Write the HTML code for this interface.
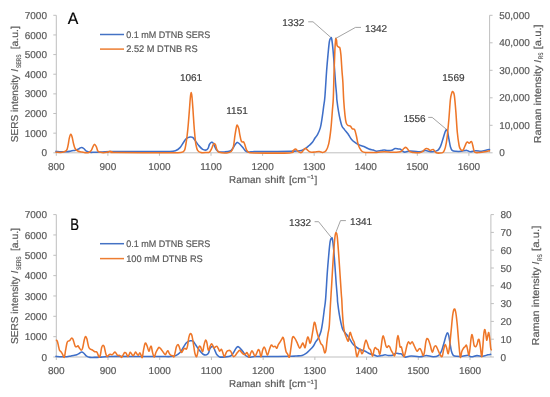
<!DOCTYPE html>
<html><head><meta charset="utf-8"><style>
html,body{margin:0;padding:0;background:#fff;width:550px;height:397px;overflow:hidden;position:relative}
</style></head><body>
<svg width="550" height="397" viewBox="0 0 550 397" style="position:absolute;left:0;top:0;text-rendering:geometricPrecision"><style>text{stroke-width:0.2px;stroke-linejoin:round}</style><rect width="550" height="397" fill="#fff"/><g font-family='"Liberation Sans", sans-serif' font-size="10" fill="#595959" stroke="#595959"><line x1="56.3" y1="15.3" x2="56.3" y2="152.8" stroke="#BFBFBF" stroke-width="1"/><line x1="489.6" y1="15.3" x2="489.6" y2="152.8" stroke="#BFBFBF" stroke-width="1"/><line x1="56.3" y1="152.8" x2="489.6" y2="152.8" stroke="#BFBFBF" stroke-width="1"/><line x1="53.3" y1="152.80" x2="56.3" y2="152.80" stroke="#BFBFBF" stroke-width="1"/><text x="47.0" y="156.40" text-anchor="end">0</text><line x1="53.3" y1="133.16" x2="56.3" y2="133.16" stroke="#BFBFBF" stroke-width="1"/><text x="47.0" y="136.76" text-anchor="end">1000</text><line x1="53.3" y1="113.51" x2="56.3" y2="113.51" stroke="#BFBFBF" stroke-width="1"/><text x="47.0" y="117.11" text-anchor="end">2000</text><line x1="53.3" y1="93.87" x2="56.3" y2="93.87" stroke="#BFBFBF" stroke-width="1"/><text x="47.0" y="97.47" text-anchor="end">3000</text><line x1="53.3" y1="74.23" x2="56.3" y2="74.23" stroke="#BFBFBF" stroke-width="1"/><text x="47.0" y="77.83" text-anchor="end">4000</text><line x1="53.3" y1="54.59" x2="56.3" y2="54.59" stroke="#BFBFBF" stroke-width="1"/><text x="47.0" y="58.19" text-anchor="end">5000</text><line x1="53.3" y1="34.94" x2="56.3" y2="34.94" stroke="#BFBFBF" stroke-width="1"/><text x="47.0" y="38.54" text-anchor="end">6000</text><line x1="53.3" y1="15.30" x2="56.3" y2="15.30" stroke="#BFBFBF" stroke-width="1"/><text x="47.0" y="18.90" text-anchor="end">7000</text><line x1="489.6" y1="152.80" x2="492.6" y2="152.80" stroke="#BFBFBF" stroke-width="1"/><text x="499.20" y="156.40">0</text><line x1="489.6" y1="125.30" x2="492.6" y2="125.30" stroke="#BFBFBF" stroke-width="1"/><text x="499.20" y="128.90">10,000</text><line x1="489.6" y1="97.80" x2="492.6" y2="97.80" stroke="#BFBFBF" stroke-width="1"/><text x="499.20" y="101.40">20,000</text><line x1="489.6" y1="70.30" x2="492.6" y2="70.30" stroke="#BFBFBF" stroke-width="1"/><text x="499.20" y="73.90">30,000</text><line x1="489.6" y1="42.80" x2="492.6" y2="42.80" stroke="#BFBFBF" stroke-width="1"/><text x="499.20" y="46.40">40,000</text><line x1="489.6" y1="15.30" x2="492.6" y2="15.30" stroke="#BFBFBF" stroke-width="1"/><text x="499.20" y="18.90">50,000</text><line x1="56.30" y1="152.8" x2="56.30" y2="155.8" stroke="#BFBFBF" stroke-width="1"/><text x="56.30" y="170.30" text-anchor="middle">800</text><line x1="107.88" y1="152.8" x2="107.88" y2="155.8" stroke="#BFBFBF" stroke-width="1"/><text x="107.88" y="170.30" text-anchor="middle">900</text><line x1="159.45" y1="152.8" x2="159.45" y2="155.8" stroke="#BFBFBF" stroke-width="1"/><text x="159.45" y="170.30" text-anchor="middle">1000</text><line x1="211.02" y1="152.8" x2="211.02" y2="155.8" stroke="#BFBFBF" stroke-width="1"/><text x="211.02" y="170.30" text-anchor="middle">1100</text><line x1="262.60" y1="152.8" x2="262.60" y2="155.8" stroke="#BFBFBF" stroke-width="1"/><text x="262.60" y="170.30" text-anchor="middle">1200</text><line x1="314.17" y1="152.8" x2="314.17" y2="155.8" stroke="#BFBFBF" stroke-width="1"/><text x="314.17" y="170.30" text-anchor="middle">1300</text><line x1="365.75" y1="152.8" x2="365.75" y2="155.8" stroke="#BFBFBF" stroke-width="1"/><text x="365.75" y="170.30" text-anchor="middle">1400</text><line x1="417.32" y1="152.8" x2="417.32" y2="155.8" stroke="#BFBFBF" stroke-width="1"/><text x="417.32" y="170.30" text-anchor="middle">1500</text><line x1="468.90" y1="152.8" x2="468.90" y2="155.8" stroke="#BFBFBF" stroke-width="1"/><text x="468.90" y="170.30" text-anchor="middle">1600</text></g><g font-family='"Liberation Sans", sans-serif' font-size="10" fill="#595959" stroke="#595959"><line x1="56.3" y1="214.6" x2="56.3" y2="357.0" stroke="#BFBFBF" stroke-width="1"/><line x1="490.9" y1="214.6" x2="490.9" y2="357.0" stroke="#BFBFBF" stroke-width="1"/><line x1="56.3" y1="357.0" x2="490.9" y2="357.0" stroke="#BFBFBF" stroke-width="1"/><line x1="53.3" y1="357.00" x2="56.3" y2="357.00" stroke="#BFBFBF" stroke-width="1"/><text x="47.0" y="360.60" text-anchor="end">0</text><line x1="53.3" y1="336.66" x2="56.3" y2="336.66" stroke="#BFBFBF" stroke-width="1"/><text x="47.0" y="340.26" text-anchor="end">1000</text><line x1="53.3" y1="316.31" x2="56.3" y2="316.31" stroke="#BFBFBF" stroke-width="1"/><text x="47.0" y="319.91" text-anchor="end">2000</text><line x1="53.3" y1="295.97" x2="56.3" y2="295.97" stroke="#BFBFBF" stroke-width="1"/><text x="47.0" y="299.57" text-anchor="end">3000</text><line x1="53.3" y1="275.63" x2="56.3" y2="275.63" stroke="#BFBFBF" stroke-width="1"/><text x="47.0" y="279.23" text-anchor="end">4000</text><line x1="53.3" y1="255.29" x2="56.3" y2="255.29" stroke="#BFBFBF" stroke-width="1"/><text x="47.0" y="258.89" text-anchor="end">5000</text><line x1="53.3" y1="234.94" x2="56.3" y2="234.94" stroke="#BFBFBF" stroke-width="1"/><text x="47.0" y="238.54" text-anchor="end">6000</text><line x1="53.3" y1="214.60" x2="56.3" y2="214.60" stroke="#BFBFBF" stroke-width="1"/><text x="47.0" y="218.20" text-anchor="end">7000</text><line x1="490.9" y1="357.00" x2="493.9" y2="357.00" stroke="#BFBFBF" stroke-width="1"/><text x="500.50" y="360.60">0</text><line x1="490.9" y1="339.20" x2="493.9" y2="339.20" stroke="#BFBFBF" stroke-width="1"/><text x="500.50" y="342.80">10</text><line x1="490.9" y1="321.40" x2="493.9" y2="321.40" stroke="#BFBFBF" stroke-width="1"/><text x="500.50" y="325.00">20</text><line x1="490.9" y1="303.60" x2="493.9" y2="303.60" stroke="#BFBFBF" stroke-width="1"/><text x="500.50" y="307.20">30</text><line x1="490.9" y1="285.80" x2="493.9" y2="285.80" stroke="#BFBFBF" stroke-width="1"/><text x="500.50" y="289.40">40</text><line x1="490.9" y1="268.00" x2="493.9" y2="268.00" stroke="#BFBFBF" stroke-width="1"/><text x="500.50" y="271.60">50</text><line x1="490.9" y1="250.20" x2="493.9" y2="250.20" stroke="#BFBFBF" stroke-width="1"/><text x="500.50" y="253.80">60</text><line x1="490.9" y1="232.40" x2="493.9" y2="232.40" stroke="#BFBFBF" stroke-width="1"/><text x="500.50" y="236.00">70</text><line x1="490.9" y1="214.60" x2="493.9" y2="214.60" stroke="#BFBFBF" stroke-width="1"/><text x="500.50" y="218.20">80</text><line x1="56.30" y1="357.0" x2="56.30" y2="360.0" stroke="#BFBFBF" stroke-width="1"/><text x="56.30" y="374.40" text-anchor="middle">800</text><line x1="108.01" y1="357.0" x2="108.01" y2="360.0" stroke="#BFBFBF" stroke-width="1"/><text x="108.01" y="374.40" text-anchor="middle">900</text><line x1="159.72" y1="357.0" x2="159.72" y2="360.0" stroke="#BFBFBF" stroke-width="1"/><text x="159.72" y="374.40" text-anchor="middle">1000</text><line x1="211.44" y1="357.0" x2="211.44" y2="360.0" stroke="#BFBFBF" stroke-width="1"/><text x="211.44" y="374.40" text-anchor="middle">1100</text><line x1="263.15" y1="357.0" x2="263.15" y2="360.0" stroke="#BFBFBF" stroke-width="1"/><text x="263.15" y="374.40" text-anchor="middle">1200</text><line x1="314.86" y1="357.0" x2="314.86" y2="360.0" stroke="#BFBFBF" stroke-width="1"/><text x="314.86" y="374.40" text-anchor="middle">1300</text><line x1="366.57" y1="357.0" x2="366.57" y2="360.0" stroke="#BFBFBF" stroke-width="1"/><text x="366.57" y="374.40" text-anchor="middle">1400</text><line x1="418.29" y1="357.0" x2="418.29" y2="360.0" stroke="#BFBFBF" stroke-width="1"/><text x="418.29" y="374.40" text-anchor="middle">1500</text><line x1="470.00" y1="357.0" x2="470.00" y2="360.0" stroke="#BFBFBF" stroke-width="1"/><text x="470.00" y="374.40" text-anchor="middle">1600</text></g><g fill="none" stroke-width="1.55" stroke-linejoin="round" stroke-linecap="round"><path d="M56.00,151.40 C56.92,151.45 59.68,151.65 61.50,151.70 C63.32,151.75 65.45,151.78 66.90,151.70 C68.35,151.62 69.10,151.38 70.20,151.20 C71.30,151.02 72.42,150.82 73.50,150.60 C74.58,150.38 75.70,150.25 76.70,149.90 C77.70,149.55 78.68,148.92 79.50,148.50 C80.32,148.08 80.88,147.40 81.60,147.40 C82.32,147.40 82.98,147.87 83.80,148.50 C84.62,149.13 85.50,150.57 86.50,151.20 C87.50,151.83 88.52,152.12 89.80,152.30 C91.08,152.48 92.57,152.33 94.20,152.30 C95.83,152.27 97.78,152.20 99.60,152.10 C101.42,152.00 103.28,151.80 105.10,151.70 C106.92,151.60 108.68,151.55 110.50,151.50 C112.32,151.45 111.08,151.40 116.00,151.40 C120.92,151.40 132.67,151.48 140.00,151.50 C147.33,151.52 155.00,151.48 160.00,151.50 C165.00,151.52 167.43,151.73 170.00,151.60 C172.57,151.47 173.73,151.37 175.40,150.70 C177.07,150.03 178.63,149.02 180.00,147.60 C181.37,146.18 182.55,143.70 183.60,142.20 C184.65,140.70 185.23,139.47 186.30,138.60 C187.37,137.73 188.93,137.20 190.00,137.00 C191.07,136.80 191.80,136.75 192.70,137.40 C193.60,138.05 194.35,139.50 195.40,140.90 C196.45,142.30 197.78,144.38 199.00,145.80 C200.22,147.22 201.48,148.70 202.70,149.40 C203.92,150.10 205.38,150.20 206.30,150.00 C207.22,149.80 207.68,149.12 208.20,148.20 C208.72,147.28 208.85,145.48 209.40,144.50 C209.95,143.52 210.87,142.53 211.50,142.30 C212.13,142.07 212.65,142.38 213.20,143.10 C213.75,143.82 214.25,145.47 214.80,146.60 C215.35,147.73 215.77,149.02 216.50,149.90 C217.23,150.78 217.85,151.57 219.20,151.90 C220.55,152.23 222.78,152.05 224.60,151.90 C226.42,151.75 228.73,151.60 230.10,151.00 C231.47,150.40 231.90,149.47 232.80,148.30 C233.70,147.13 234.72,144.98 235.50,144.00 C236.28,143.02 236.77,142.37 237.50,142.40 C238.23,142.43 239.05,143.40 239.90,144.20 C240.75,145.00 241.68,146.10 242.60,147.20 C243.52,148.30 244.40,149.98 245.40,150.80 C246.40,151.62 247.15,151.98 248.60,152.10 C250.05,152.22 251.37,151.60 254.10,151.50 C256.83,151.40 258.93,151.53 265.00,151.50 C271.07,151.47 285.33,151.38 290.50,151.30 C295.67,151.22 294.17,151.13 296.00,151.00 C297.83,150.87 299.87,150.95 301.50,150.50 C303.13,150.05 304.53,149.13 305.80,148.30 C307.07,147.47 308.00,146.50 309.10,145.50 C310.20,144.50 311.42,143.55 312.40,142.30 C313.38,141.05 314.15,139.27 315.00,138.00 C315.85,136.73 316.62,136.38 317.50,134.70 C318.38,133.02 319.55,130.57 320.30,127.90 C321.05,125.23 321.45,122.20 322.00,118.70 C322.55,115.20 323.12,110.57 323.60,106.90 C324.08,103.23 324.40,102.68 324.90,96.70 C325.40,90.72 326.08,78.02 326.60,71.00 C327.12,63.98 327.53,59.52 328.00,54.60 C328.47,49.68 328.93,44.28 329.40,41.50 C329.87,38.72 330.42,38.32 330.80,37.90 C331.18,37.48 331.33,37.03 331.70,39.00 C332.07,40.97 332.57,45.18 333.00,49.70 C333.43,54.22 333.88,60.63 334.30,66.10 C334.72,71.57 335.12,77.67 335.50,82.50 C335.88,87.33 336.37,92.17 336.60,95.10 C336.83,98.03 336.57,97.30 336.90,100.10 C337.23,102.90 338.03,108.53 338.60,111.90 C339.17,115.27 339.73,117.92 340.30,120.30 C340.87,122.68 341.30,124.65 342.00,126.20 C342.70,127.75 343.52,128.33 344.50,129.60 C345.48,130.87 346.78,132.25 347.90,133.80 C349.02,135.35 350.08,137.50 351.20,138.90 C352.32,140.30 353.33,141.22 354.60,142.20 C355.87,143.18 357.25,144.08 358.80,144.80 C360.35,145.52 362.22,145.80 363.90,146.50 C365.58,147.20 367.33,148.40 368.90,149.00 C370.47,149.60 372.03,149.73 373.30,150.10 C374.57,150.47 375.23,151.12 376.50,151.20 C377.77,151.28 379.62,150.82 380.90,150.60 C382.18,150.38 383.10,149.90 384.20,149.90 C385.30,149.90 386.23,150.53 387.50,150.60 C388.77,150.67 390.53,150.65 391.80,150.30 C393.07,149.95 394.00,148.72 395.10,148.50 C396.20,148.28 397.50,148.88 398.40,149.00 C399.30,149.12 399.78,148.83 400.50,149.20 C401.22,149.57 401.97,150.72 402.70,151.20 C403.43,151.68 403.98,152.10 404.90,152.10 C405.82,152.10 406.75,151.35 408.20,151.20 C409.65,151.05 411.78,151.12 413.60,151.20 C415.42,151.28 417.63,151.70 419.10,151.70 C420.57,151.70 421.32,151.38 422.40,151.20 C423.48,151.02 423.95,150.50 425.60,150.60 C427.25,150.70 430.28,151.83 432.30,151.80 C434.32,151.77 436.35,151.25 437.70,150.40 C439.05,149.55 439.55,148.52 440.40,146.70 C441.25,144.88 442.03,141.92 442.80,139.50 C443.57,137.08 444.40,133.87 445.00,132.20 C445.60,130.53 445.95,129.50 446.40,129.50 C446.85,129.50 447.27,130.53 447.70,132.20 C448.13,133.87 448.55,137.08 449.00,139.50 C449.45,141.92 449.87,144.88 450.40,146.70 C450.93,148.52 451.28,149.63 452.20,150.40 C453.12,151.17 454.38,151.15 455.90,151.30 C457.42,151.45 459.48,151.45 461.30,151.30 C463.12,151.15 465.28,150.32 466.80,150.40 C468.32,150.48 468.90,151.75 470.40,151.80 C471.90,151.85 473.98,150.78 475.80,150.70 C477.62,150.62 479.48,151.42 481.30,151.30 C483.12,151.18 485.33,150.30 486.70,150.00 C488.07,149.70 489.03,149.58 489.50,149.50" stroke="#3F6FC8"/><path d="M56.00,152.30 C57.08,152.30 60.77,152.58 62.50,152.30 C64.23,152.02 65.48,151.70 66.40,150.60 C67.32,149.50 67.52,147.78 68.00,145.70 C68.48,143.62 68.85,140.00 69.30,138.10 C69.75,136.20 70.23,134.48 70.70,134.30 C71.17,134.12 71.63,135.47 72.10,137.00 C72.57,138.53 73.00,141.58 73.50,143.50 C74.00,145.42 74.38,147.25 75.10,148.50 C75.82,149.75 76.80,150.43 77.80,151.00 C78.80,151.57 80.00,151.63 81.10,151.90 C82.20,152.17 83.13,152.50 84.40,152.60 C85.67,152.70 87.52,152.92 88.70,152.50 C89.88,152.08 90.77,151.13 91.50,150.10 C92.23,149.07 92.57,147.25 93.10,146.30 C93.63,145.35 94.15,144.32 94.70,144.40 C95.25,144.48 95.85,145.67 96.40,146.80 C96.95,147.93 97.10,150.23 98.00,151.20 C98.90,152.17 100.25,152.42 101.80,152.60 C103.35,152.78 105.93,152.52 107.30,152.30 C108.67,152.08 109.10,151.30 110.00,151.30 C110.90,151.30 111.70,152.08 112.70,152.30 C113.70,152.52 106.45,152.53 116.00,152.60 C125.55,152.67 159.18,152.72 170.00,152.70 C180.82,152.68 178.48,152.90 180.90,152.50 C183.32,152.10 183.65,151.80 184.50,150.30 C185.35,148.80 185.55,146.05 186.00,143.50 C186.45,140.95 186.82,138.25 187.20,135.00 C187.58,131.75 187.93,128.17 188.30,124.00 C188.67,119.83 189.05,114.50 189.40,110.00 C189.75,105.50 190.10,99.90 190.40,97.00 C190.70,94.10 190.93,92.60 191.20,92.60 C191.47,92.60 191.70,94.10 192.00,97.00 C192.30,99.90 192.68,105.50 193.00,110.00 C193.32,114.50 193.58,119.67 193.90,124.00 C194.22,128.33 194.57,132.58 194.90,136.00 C195.23,139.42 195.45,142.12 195.90,144.50 C196.35,146.88 196.77,148.97 197.60,150.30 C198.43,151.63 199.45,152.13 200.90,152.50 C202.35,152.87 204.88,152.57 206.30,152.50 C207.72,152.43 208.53,152.72 209.40,152.10 C210.27,151.48 210.87,150.07 211.50,148.80 C212.13,147.53 212.73,145.40 213.20,144.50 C213.67,143.60 213.93,143.40 214.30,143.40 C214.67,143.40 214.95,143.42 215.40,144.50 C215.85,145.58 216.37,148.60 217.00,149.90 C217.63,151.20 217.57,151.80 219.20,152.30 C220.83,152.80 224.80,153.03 226.80,152.90 C228.80,152.77 230.10,152.55 231.20,151.50 C232.30,150.45 232.77,149.32 233.40,146.60 C234.03,143.88 234.47,138.60 235.00,135.20 C235.53,131.80 236.18,127.83 236.60,126.20 C237.02,124.57 237.13,124.97 237.50,125.40 C237.87,125.83 238.40,127.17 238.80,128.80 C239.20,130.43 239.50,133.18 239.90,135.20 C240.30,137.22 240.75,139.77 241.20,140.90 C241.65,142.03 242.18,141.82 242.60,142.00 C243.02,142.18 243.33,141.58 243.70,142.00 C244.07,142.42 244.33,143.18 244.80,144.50 C245.27,145.82 245.87,148.60 246.50,149.90 C247.13,151.20 247.33,151.80 248.60,152.30 C249.87,152.80 247.28,152.80 254.10,152.90 C260.92,153.00 283.07,153.22 289.50,152.90 C295.93,152.58 291.70,151.65 292.70,151.00 C293.70,150.35 294.68,149.03 295.50,149.00 C296.32,148.97 296.78,150.20 297.60,150.80 C298.42,151.40 299.58,152.48 300.40,152.60 C301.22,152.72 301.78,152.17 302.50,151.50 C303.22,150.83 304.15,149.13 304.70,148.60 C305.25,148.07 305.25,147.98 305.80,148.30 C306.35,148.62 307.27,149.87 308.00,150.50 C308.73,151.13 309.12,151.83 310.20,152.10 C311.28,152.37 313.00,152.20 314.50,152.10 C316.00,152.00 317.85,151.45 319.20,151.50 C320.55,151.55 321.47,152.53 322.60,152.40 C323.73,152.27 324.98,152.12 326.00,150.70 C327.02,149.28 327.88,147.55 328.70,143.90 C329.52,140.25 330.28,134.42 330.90,128.80 C331.52,123.18 332.00,115.27 332.40,110.20 C332.80,105.13 333.02,104.93 333.30,98.40 C333.58,91.87 333.83,79.12 334.10,71.00 C334.37,62.88 334.65,54.90 334.90,49.70 C335.15,44.50 335.42,41.67 335.60,39.80 C335.78,37.93 335.83,38.35 336.00,38.50 C336.17,38.65 336.42,39.52 336.60,40.70 C336.78,41.88 336.73,44.52 337.10,45.60 C337.47,46.68 338.33,46.80 338.80,47.20 C339.27,47.60 339.55,46.77 339.90,48.00 C340.25,49.23 340.55,50.77 340.90,54.60 C341.25,58.43 341.67,66.35 342.00,71.00 C342.33,75.65 342.62,77.67 342.90,82.50 C343.18,87.33 343.35,94.53 343.70,100.00 C344.05,105.47 344.58,111.48 345.00,115.30 C345.42,119.12 345.72,121.22 346.20,122.90 C346.68,124.58 347.20,124.85 347.90,125.40 C348.60,125.95 349.65,125.63 350.40,126.20 C351.15,126.77 351.70,128.23 352.40,128.80 C353.10,129.37 353.95,128.48 354.60,129.60 C355.25,130.72 355.73,133.12 356.30,135.50 C356.87,137.88 357.43,141.80 358.00,143.90 C358.57,146.00 359.00,146.83 359.70,148.10 C360.40,149.37 361.22,150.78 362.20,151.50 C363.18,152.22 363.22,152.23 365.60,152.40 C367.98,152.57 373.40,152.62 376.50,152.50 C379.60,152.38 381.65,151.73 384.20,151.70 C386.75,151.67 389.43,152.23 391.80,152.30 C394.17,152.37 396.77,152.28 398.40,152.10 C400.03,151.92 400.70,151.80 401.60,151.20 C402.50,150.60 403.07,149.13 403.80,148.50 C404.53,147.87 405.37,147.32 406.00,147.40 C406.63,147.48 406.97,148.28 407.60,149.00 C408.23,149.72 408.80,151.12 409.80,151.70 C410.80,152.28 412.05,152.32 413.60,152.50 C415.15,152.68 417.63,152.93 419.10,152.80 C420.57,152.67 421.50,152.25 422.40,151.70 C423.30,151.15 423.78,150.03 424.50,149.50 C425.22,148.97 426.08,148.58 426.70,148.50 C427.32,148.42 427.58,148.68 428.20,149.00 C428.82,149.32 429.57,150.32 430.40,150.40 C431.23,150.48 432.28,149.15 433.20,149.50 C434.12,149.85 434.85,151.90 435.90,152.50 C436.95,153.10 438.28,153.15 439.50,153.10 C440.72,153.05 442.23,153.12 443.20,152.20 C444.17,151.28 444.65,150.03 445.30,147.60 C445.95,145.17 446.48,142.58 447.10,137.60 C447.72,132.62 448.45,124.05 449.00,117.70 C449.55,111.35 449.92,103.68 450.40,99.50 C450.88,95.32 451.45,93.87 451.90,92.60 C452.35,91.33 452.68,91.35 453.10,91.90 C453.52,92.45 453.93,92.52 454.40,95.90 C454.87,99.28 455.42,106.15 455.90,112.20 C456.38,118.25 456.77,126.65 457.30,132.20 C457.83,137.75 458.57,142.67 459.10,145.50 C459.63,148.33 460.02,148.35 460.50,149.20 C460.98,150.05 461.50,150.55 462.00,150.60 C462.50,150.65 463.00,150.27 463.50,149.50 C464.00,148.73 464.50,147.15 465.00,146.00 C465.50,144.85 466.08,143.27 466.50,142.60 C466.92,141.93 467.05,141.88 467.50,142.00 C467.95,142.12 468.65,143.33 469.20,143.30 C469.75,143.27 470.37,142.02 470.80,141.80 C471.23,141.58 471.47,141.38 471.80,142.00 C472.13,142.62 472.47,144.17 472.80,145.50 C473.13,146.83 473.43,148.85 473.80,150.00 C474.17,151.15 474.05,151.98 475.00,152.40 C475.95,152.82 477.85,152.60 479.50,152.50 C481.15,152.40 483.23,152.10 484.90,151.80 C486.57,151.50 488.73,150.88 489.50,150.70" stroke="#EE7628"/><path d="M56.00,356.38 C56.92,356.44 59.69,356.66 61.51,356.71 C63.34,356.76 65.47,356.80 66.93,356.71 C68.38,356.62 69.13,356.37 70.24,356.17 C71.34,355.97 72.46,355.75 73.55,355.52 C74.63,355.28 75.75,355.14 76.75,354.76 C77.76,354.38 78.74,353.70 79.56,353.25 C80.38,352.80 80.95,352.06 81.67,352.06 C82.39,352.06 83.05,352.56 83.87,353.25 C84.69,353.93 85.58,355.48 86.58,356.17 C87.58,356.85 88.60,357.16 89.89,357.36 C91.18,357.56 92.66,357.39 94.30,357.36 C95.94,357.32 97.89,357.25 99.72,357.14 C101.54,357.03 103.41,356.82 105.23,356.71 C107.05,356.60 108.82,356.55 110.64,356.49 C112.47,356.44 111.23,356.38 116.16,356.38 C121.09,356.38 132.87,356.48 140.22,356.49 C147.58,356.51 155.26,356.48 160.28,356.49 C165.29,356.51 167.73,356.75 170.30,356.60 C172.88,356.46 174.05,356.35 175.72,355.63 C177.39,354.91 178.96,353.81 180.33,352.27 C181.70,350.74 182.89,348.05 183.94,346.43 C184.99,344.80 185.58,343.47 186.65,342.53 C187.72,341.59 189.29,341.02 190.36,340.80 C191.43,340.58 192.16,340.53 193.06,341.23 C193.97,341.94 194.72,343.51 195.77,345.02 C196.82,346.54 198.16,348.79 199.38,350.32 C200.60,351.86 201.87,353.46 203.09,354.22 C204.31,354.98 205.78,355.09 206.70,354.87 C207.62,354.65 208.09,353.91 208.60,352.92 C209.12,351.93 209.26,349.98 209.81,348.92 C210.36,347.85 211.28,346.79 211.91,346.54 C212.55,346.28 213.07,346.63 213.62,347.40 C214.17,348.18 214.67,349.96 215.22,351.19 C215.77,352.42 216.19,353.81 216.93,354.76 C217.66,355.72 218.28,356.57 219.63,356.93 C220.99,357.29 223.23,357.09 225.05,356.93 C226.87,356.76 229.19,356.60 230.56,355.95 C231.93,355.30 232.37,354.29 233.27,353.03 C234.17,351.77 235.19,349.44 235.98,348.38 C236.76,347.31 237.25,346.61 237.98,346.64 C238.72,346.68 239.54,347.73 240.39,348.59 C241.24,349.46 242.18,350.65 243.10,351.84 C244.02,353.03 244.90,354.85 245.90,355.74 C246.91,356.62 247.66,357.02 249.11,357.14 C250.57,357.27 251.89,356.60 254.63,356.49 C257.37,356.38 259.47,356.53 265.56,356.49 C271.64,356.46 285.94,356.37 291.12,356.28 C296.30,356.19 294.80,356.10 296.64,355.95 C298.48,355.81 300.52,355.90 302.15,355.41 C303.79,354.92 305.20,353.93 306.47,353.03 C307.74,352.13 308.67,351.08 309.77,350.00 C310.88,348.92 312.10,347.89 313.08,346.54 C314.07,345.18 314.84,343.25 315.69,341.88 C316.54,340.51 317.31,340.09 318.20,338.31 C319.08,336.53 320.25,333.98 321.00,331.21 C321.76,328.44 322.16,325.31 322.71,321.68 C323.26,318.06 323.83,313.26 324.31,309.46 C324.80,305.67 325.11,305.10 325.62,298.90 C326.12,292.70 326.80,279.55 327.32,272.28 C327.84,265.02 328.26,260.39 328.72,255.30 C329.19,250.21 329.66,244.62 330.13,241.73 C330.60,238.85 331.15,238.44 331.53,238.01 C331.92,237.57 332.07,237.11 332.43,239.14 C332.80,241.18 333.30,245.55 333.74,250.23 C334.17,254.90 334.62,261.55 335.04,267.21 C335.46,272.87 335.86,279.19 336.24,284.19 C336.63,289.20 337.11,294.21 337.35,297.24 C337.58,300.28 337.31,299.52 337.65,302.42 C337.98,305.32 338.78,311.16 339.35,314.64 C339.92,318.13 340.49,320.87 341.06,323.34 C341.63,325.81 342.06,327.85 342.76,329.45 C343.46,331.06 344.28,331.66 345.27,332.97 C346.25,334.29 347.56,335.69 348.68,337.34 C349.80,338.98 350.87,341.34 351.99,342.86 C353.11,344.37 354.13,345.36 355.40,346.43 C356.67,347.49 358.05,348.47 359.61,349.24 C361.16,350.02 363.03,350.32 364.72,351.08 C366.41,351.84 368.16,353.14 369.73,353.79 C371.30,354.44 372.88,354.58 374.15,354.98 C375.42,355.37 376.08,356.08 377.35,356.17 C378.62,356.26 380.48,355.75 381.77,355.52 C383.05,355.28 383.97,354.76 385.07,354.76 C386.18,354.76 387.11,355.45 388.38,355.52 C389.65,355.59 391.42,355.57 392.69,355.19 C393.96,354.82 394.90,353.48 396.00,353.25 C397.11,353.01 398.41,353.66 399.31,353.79 C400.21,353.91 400.70,353.61 401.42,354.00 C402.14,354.40 402.89,355.65 403.62,356.17 C404.36,356.69 404.91,357.14 405.83,357.14 C406.75,357.14 407.68,356.33 409.14,356.17 C410.59,356.01 412.73,356.08 414.55,356.17 C416.37,356.26 418.60,356.71 420.07,356.71 C421.54,356.71 422.29,356.37 423.38,356.17 C424.46,355.97 424.93,355.41 426.58,355.52 C428.24,355.63 431.28,356.85 433.30,356.82 C435.32,356.78 437.36,356.22 438.72,355.30 C440.07,354.38 440.57,353.26 441.42,351.30 C442.28,349.33 443.06,346.11 443.83,343.51 C444.60,340.90 445.43,337.44 446.04,335.67 C446.64,333.89 446.99,332.87 447.44,332.87 C447.89,332.87 448.31,333.89 448.74,335.67 C449.18,337.44 449.60,340.90 450.05,343.51 C450.50,346.11 450.92,349.33 451.45,351.30 C451.99,353.26 452.34,354.47 453.26,355.30 C454.17,356.13 455.44,356.11 456.97,356.28 C458.49,356.44 460.56,356.44 462.38,356.28 C464.20,356.11 466.37,355.21 467.89,355.30 C469.42,355.39 470.00,356.76 471.50,356.82 C473.01,356.87 475.10,355.72 476.92,355.63 C478.74,355.54 480.61,356.40 482.43,356.28 C484.25,356.15 486.48,355.19 487.85,354.87 C489.22,354.55 490.19,354.42 490.65,354.33" stroke="#3F6FC8"/><path d="M56.50,340.20 C56.67,340.45 57.17,340.70 57.50,341.70 C57.83,342.70 58.17,344.78 58.50,346.20 C58.83,347.62 59.08,349.27 59.50,350.20 C59.92,351.13 60.48,351.12 61.00,351.80 C61.52,352.48 62.05,353.38 62.60,354.30 C63.15,355.22 63.80,357.98 64.30,357.30 C64.80,356.62 65.17,352.55 65.60,350.20 C66.03,347.85 66.52,344.70 66.90,343.20 C67.28,341.70 67.45,341.62 67.90,341.20 C68.35,340.78 68.98,341.22 69.60,340.70 C70.22,340.18 71.05,338.35 71.60,338.10 C72.15,337.85 72.47,338.35 72.90,339.20 C73.33,340.05 73.82,342.03 74.20,343.20 C74.58,344.37 74.78,345.62 75.20,346.20 C75.62,346.78 76.23,346.78 76.70,346.70 C77.17,346.62 77.58,345.53 78.00,345.70 C78.42,345.87 78.63,346.95 79.20,347.70 C79.77,348.45 80.82,350.20 81.40,350.20 C81.98,350.20 82.23,349.37 82.70,347.70 C83.17,346.03 83.75,342.05 84.20,340.20 C84.65,338.35 84.97,336.87 85.40,336.60 C85.83,336.33 86.40,337.50 86.80,338.60 C87.20,339.70 87.47,341.77 87.80,343.20 C88.13,344.63 88.38,346.20 88.80,347.20 C89.22,348.20 89.80,348.78 90.30,349.20 C90.80,349.62 91.30,349.45 91.80,349.70 C92.30,349.95 92.80,350.35 93.30,350.70 C93.80,351.05 94.30,351.62 94.80,351.80 C95.30,351.98 95.88,351.63 96.30,351.80 C96.72,351.97 96.93,352.13 97.30,352.80 C97.67,353.47 98.15,355.08 98.50,355.80 C98.85,356.52 99.08,357.27 99.40,357.10 C99.72,356.93 100.03,356.37 100.40,354.80 C100.77,353.23 101.18,349.27 101.60,347.70 C102.02,346.13 102.48,345.62 102.90,345.40 C103.32,345.18 103.75,345.60 104.10,346.40 C104.45,347.20 104.68,348.88 105.00,350.20 C105.32,351.52 105.67,353.25 106.00,354.30 C106.33,355.35 106.58,356.33 107.00,356.50 C107.42,356.67 107.98,355.67 108.50,355.30 C109.02,354.93 109.50,354.38 110.10,354.30 C110.70,354.22 111.52,354.97 112.10,354.80 C112.68,354.63 113.13,353.75 113.60,353.30 C114.07,352.85 114.48,352.10 114.90,352.10 C115.32,352.10 115.65,352.73 116.10,353.30 C116.55,353.87 117.10,355.17 117.60,355.50 C118.10,355.83 118.60,355.17 119.10,355.30 C119.60,355.43 120.18,355.97 120.60,356.30 C121.02,356.63 121.17,357.55 121.60,357.30 C122.03,357.05 122.68,355.60 123.20,354.80 C123.72,354.00 124.20,352.75 124.70,352.50 C125.20,352.25 125.70,352.63 126.20,353.30 C126.70,353.97 127.23,356.25 127.70,356.50 C128.17,356.75 128.58,355.50 129.00,354.80 C129.42,354.10 129.75,352.42 130.20,352.30 C130.65,352.18 131.23,353.52 131.70,354.10 C132.17,354.68 132.57,355.77 133.00,355.80 C133.43,355.83 133.88,354.92 134.30,354.30 C134.72,353.68 135.08,352.18 135.50,352.10 C135.92,352.02 136.33,353.27 136.80,353.80 C137.27,354.33 137.80,355.47 138.30,355.30 C138.80,355.13 139.33,352.80 139.80,352.80 C140.27,352.80 140.68,354.52 141.10,355.30 C141.52,356.08 141.90,358.35 142.30,357.50 C142.70,356.65 143.08,352.42 143.50,350.20 C143.92,347.98 144.42,345.37 144.80,344.20 C145.18,343.03 145.40,342.87 145.80,343.20 C146.20,343.53 146.68,344.85 147.20,346.20 C147.72,347.55 148.40,351.08 148.90,351.30 C149.40,351.52 149.80,348.32 150.20,347.50 C150.60,346.68 150.92,345.60 151.30,346.40 C151.68,347.20 152.02,350.52 152.50,352.30 C152.98,354.08 153.62,357.10 154.20,357.10 C154.78,357.10 155.38,353.70 156.00,352.30 C156.62,350.90 157.35,349.52 157.90,348.70 C158.45,347.88 158.77,347.32 159.30,347.40 C159.83,347.48 160.38,348.30 161.10,349.20 C161.82,350.10 162.90,351.87 163.60,352.80 C164.30,353.73 164.80,354.88 165.30,354.80 C165.80,354.72 166.17,352.98 166.60,352.30 C167.03,351.62 167.47,350.53 167.90,350.70 C168.33,350.87 168.73,352.57 169.20,353.30 C169.67,354.03 170.12,354.68 170.70,355.10 C171.28,355.52 172.15,355.52 172.70,355.80 C173.25,356.08 173.58,357.38 174.00,356.80 C174.42,356.22 174.80,353.98 175.20,352.30 C175.60,350.62 175.93,348.02 176.40,346.70 C176.87,345.38 177.53,344.40 178.00,344.40 C178.47,344.40 178.75,345.55 179.20,346.70 C179.65,347.85 180.27,350.37 180.70,351.30 C181.13,352.23 181.37,352.57 181.80,352.30 C182.23,352.03 182.80,350.38 183.30,349.70 C183.80,349.02 184.30,348.28 184.80,348.20 C185.30,348.12 185.85,349.53 186.30,349.20 C186.75,348.87 187.08,348.13 187.50,346.20 C187.92,344.27 188.33,339.70 188.80,337.60 C189.27,335.50 189.80,334.02 190.30,333.60 C190.80,333.18 191.38,334.00 191.80,335.10 C192.22,336.20 192.45,338.18 192.80,340.20 C193.15,342.22 193.55,345.02 193.90,347.20 C194.25,349.38 194.52,351.70 194.90,353.30 C195.28,354.90 195.78,356.63 196.20,356.80 C196.62,356.97 197.05,355.57 197.40,354.30 C197.75,353.03 198.00,350.52 198.30,349.20 C198.60,347.88 198.83,346.82 199.20,346.40 C199.57,345.98 200.07,346.07 200.50,346.70 C200.93,347.33 201.42,349.43 201.80,350.20 C202.18,350.97 202.42,352.22 202.80,351.30 C203.18,350.38 203.63,346.55 204.10,344.70 C204.57,342.85 205.13,340.53 205.60,340.20 C206.07,339.87 206.52,341.28 206.90,342.70 C207.28,344.12 207.57,347.45 207.90,348.70 C208.23,349.95 208.53,350.62 208.90,350.20 C209.27,349.78 209.65,347.28 210.10,346.20 C210.55,345.12 211.13,343.78 211.60,343.70 C212.07,343.62 212.48,344.95 212.90,345.70 C213.32,346.45 213.65,348.03 214.10,348.20 C214.55,348.37 215.12,347.00 215.60,346.70 C216.08,346.40 216.53,346.07 217.00,346.40 C217.47,346.73 217.95,347.88 218.40,348.70 C218.85,349.52 219.20,351.22 219.70,351.30 C220.20,351.38 220.90,349.03 221.40,349.20 C221.90,349.37 222.23,351.03 222.70,352.30 C223.17,353.57 223.70,356.55 224.20,356.80 C224.70,357.05 225.23,354.72 225.70,353.80 C226.17,352.88 226.48,351.87 227.00,351.30 C227.52,350.73 228.22,350.45 228.80,350.40 C229.38,350.35 230.00,350.52 230.50,351.00 C231.00,351.48 231.33,352.38 231.80,353.30 C232.27,354.22 232.75,356.08 233.30,356.50 C233.85,356.92 234.52,356.33 235.10,355.80 C235.68,355.27 236.23,354.05 236.80,353.30 C237.37,352.55 238.00,351.82 238.50,351.30 C239.00,350.78 239.32,350.07 239.80,350.20 C240.28,350.33 240.80,351.45 241.40,352.10 C242.00,352.75 242.82,353.68 243.40,354.10 C243.98,354.52 244.48,354.68 244.90,354.60 C245.32,354.52 245.58,353.95 245.90,353.60 C246.22,353.25 246.45,352.38 246.80,352.50 C247.15,352.62 247.60,353.53 248.00,354.30 C248.40,355.07 248.77,357.27 249.20,357.10 C249.63,356.93 250.15,354.37 250.60,353.30 C251.05,352.23 251.45,350.78 251.90,350.70 C252.35,350.62 252.80,351.87 253.30,352.80 C253.80,353.73 254.35,356.22 254.90,356.30 C255.45,356.38 256.03,354.40 256.60,353.30 C257.17,352.20 257.80,350.03 258.30,349.70 C258.80,349.37 259.13,350.12 259.60,351.30 C260.07,352.48 260.60,356.98 261.10,356.80 C261.60,356.62 262.08,351.83 262.60,350.20 C263.12,348.57 263.68,347.00 264.20,347.00 C264.72,347.00 265.17,348.82 265.70,350.20 C266.23,351.58 266.82,355.30 267.40,355.30 C267.98,355.30 268.57,351.88 269.20,350.20 C269.83,348.52 270.53,345.78 271.20,345.20 C271.87,344.62 272.52,346.50 273.20,346.70 C273.88,346.90 274.70,346.15 275.30,346.40 C275.90,346.65 276.30,348.48 276.80,348.20 C277.30,347.92 277.72,345.78 278.30,344.70 C278.88,343.62 279.72,342.62 280.30,341.70 C280.88,340.78 281.38,339.93 281.80,339.20 C282.22,338.47 282.47,337.30 282.80,337.30 C283.13,337.30 283.47,337.88 283.80,339.20 C284.13,340.52 284.42,343.10 284.80,345.20 C285.18,347.30 285.65,350.37 286.10,351.80 C286.55,353.23 286.95,352.92 287.50,353.80 C288.05,354.68 288.83,358.03 289.40,357.10 C289.97,356.17 290.43,351.28 290.90,348.20 C291.37,345.12 291.82,340.53 292.20,338.60 C292.58,336.67 292.90,336.85 293.20,336.60 C293.50,336.35 293.65,336.70 294.00,337.10 C294.35,337.50 294.70,337.88 295.30,339.00 C295.90,340.12 296.85,342.25 297.60,343.80 C298.35,345.35 299.10,348.17 299.80,348.30 C300.50,348.43 301.30,345.47 301.80,344.60 C302.30,343.73 302.45,342.98 302.80,343.10 C303.15,343.22 303.52,344.55 303.90,345.30 C304.28,346.05 304.65,348.35 305.10,347.60 C305.55,346.85 306.15,342.57 306.60,340.80 C307.05,339.03 307.42,337.25 307.80,337.00 C308.18,336.75 308.55,338.28 308.90,339.30 C309.25,340.32 309.53,342.85 309.90,343.10 C310.27,343.35 310.63,342.70 311.10,340.80 C311.57,338.90 312.18,334.72 312.70,331.70 C313.22,328.68 313.75,323.95 314.20,322.70 C314.65,321.45 315.03,323.07 315.40,324.20 C315.77,325.33 315.98,327.62 316.40,329.50 C316.82,331.38 317.38,333.75 317.90,335.50 C318.42,337.25 318.98,338.62 319.50,340.00 C320.02,341.38 320.50,342.92 321.00,343.80 C321.50,344.68 322.08,344.55 322.50,345.30 C322.92,346.05 323.13,347.03 323.50,348.30 C323.87,349.57 324.28,352.65 324.70,352.90 C325.12,353.15 325.62,351.82 326.00,349.80 C326.38,347.78 326.65,343.57 327.00,340.80 C327.35,338.03 327.72,335.72 328.10,333.20 C328.48,330.68 328.92,330.37 329.30,325.70 C329.68,321.03 330.02,311.88 330.40,305.20 C330.78,298.52 331.20,292.23 331.60,285.60 C332.00,278.97 332.37,272.13 332.80,265.40 C333.23,258.67 333.80,250.25 334.20,245.20 C334.60,240.15 334.87,237.18 335.20,235.10 C335.53,233.02 335.87,232.53 336.20,232.70 C336.53,232.87 336.80,232.67 337.20,236.10 C337.60,239.53 338.12,246.73 338.60,253.30 C339.08,259.87 339.65,268.77 340.10,275.50 C340.55,282.23 341.02,289.62 341.30,293.70 C341.58,297.78 341.62,296.93 341.80,300.00 C341.98,303.07 342.15,308.07 342.40,312.10 C342.65,316.13 342.97,320.93 343.30,324.20 C343.63,327.47 343.97,329.68 344.40,331.70 C344.83,333.72 345.40,334.92 345.90,336.30 C346.40,337.68 346.98,339.25 347.40,340.00 C347.82,340.75 348.03,341.80 348.40,340.80 C348.77,339.80 349.27,335.38 349.60,334.00 C349.93,332.62 350.07,332.12 350.40,332.50 C350.73,332.88 351.17,335.05 351.60,336.30 C352.03,337.55 352.57,339.00 353.00,340.00 C353.43,341.00 353.80,340.92 354.20,342.30 C354.60,343.68 354.95,345.92 355.40,348.30 C355.85,350.68 356.35,355.97 356.90,356.60 C357.45,357.23 358.15,353.35 358.70,352.10 C359.25,350.85 359.70,348.85 360.20,349.10 C360.70,349.35 361.20,353.22 361.70,353.60 C362.20,353.98 362.70,353.03 363.20,351.40 C363.70,349.77 364.23,345.70 364.70,343.80 C365.17,341.90 365.53,340.00 366.00,340.00 C366.47,340.00 367.00,342.42 367.50,343.80 C368.00,345.18 368.50,347.30 369.00,348.30 C369.50,349.30 369.90,348.48 370.50,349.80 C371.10,351.12 372.00,356.20 372.60,356.20 C373.20,356.20 373.65,351.23 374.10,349.80 C374.55,348.37 374.85,347.72 375.30,347.60 C375.75,347.48 376.32,348.75 376.80,349.10 C377.28,349.45 377.70,348.83 378.20,349.70 C378.70,350.57 379.33,354.55 379.80,354.30 C380.27,354.05 380.60,350.72 381.00,348.20 C381.40,345.68 381.82,341.25 382.20,339.20 C382.58,337.15 382.90,335.73 383.30,335.90 C383.70,336.07 384.17,338.57 384.60,340.20 C385.03,341.83 385.48,344.50 385.90,345.70 C386.32,346.90 386.65,347.40 387.10,347.40 C387.55,347.40 388.13,345.73 388.60,345.70 C389.07,345.67 389.45,346.37 389.90,347.20 C390.35,348.03 390.80,349.68 391.30,350.70 C391.80,351.72 392.35,352.45 392.90,353.30 C393.45,354.15 394.08,356.32 394.60,355.80 C395.12,355.28 395.60,352.80 396.00,350.20 C396.40,347.60 396.67,342.63 397.00,340.20 C397.33,337.77 397.67,335.60 398.00,335.60 C398.33,335.60 398.67,338.35 399.00,340.20 C399.33,342.05 399.60,345.53 400.00,346.70 C400.40,347.87 400.95,346.27 401.40,347.20 C401.85,348.13 402.27,350.70 402.70,352.30 C403.13,353.90 403.55,356.80 404.00,356.80 C404.45,356.80 404.90,354.23 405.40,352.30 C405.90,350.37 406.48,346.97 407.00,345.20 C407.52,343.43 407.98,341.90 408.50,341.70 C409.02,341.50 409.50,344.00 410.10,344.00 C410.70,344.00 411.53,341.67 412.10,341.70 C412.67,341.73 412.97,343.12 413.50,344.20 C414.03,345.28 414.70,347.02 415.30,348.20 C415.90,349.38 416.52,351.13 417.10,351.30 C417.68,351.47 418.27,349.63 418.80,349.20 C419.33,348.77 419.78,348.18 420.30,348.70 C420.82,349.22 421.42,351.12 421.90,352.30 C422.38,353.48 422.78,355.80 423.20,355.80 C423.62,355.80 423.95,354.65 424.40,352.30 C424.85,349.95 425.47,344.00 425.90,341.70 C426.33,339.40 426.57,338.78 427.00,338.50 C427.43,338.22 427.95,338.87 428.50,340.00 C429.05,341.13 429.67,343.28 430.30,345.30 C430.93,347.32 431.63,351.85 432.30,352.10 C432.97,352.35 433.67,347.80 434.30,346.80 C434.93,345.80 435.50,345.60 436.10,346.10 C436.70,346.60 437.27,348.42 437.90,349.80 C438.53,351.18 439.20,353.27 439.90,354.40 C440.60,355.53 441.48,357.37 442.10,356.60 C442.72,355.83 443.10,351.80 443.60,349.80 C444.10,347.80 444.58,344.85 445.10,344.60 C445.62,344.35 446.18,346.80 446.70,348.30 C447.22,349.80 447.70,354.10 448.20,353.60 C448.70,353.10 449.20,349.20 449.70,345.30 C450.20,341.40 450.70,335.23 451.20,330.20 C451.70,325.17 452.20,318.62 452.70,315.10 C453.20,311.58 453.70,309.60 454.20,309.10 C454.70,308.60 455.20,309.58 455.70,312.10 C456.20,314.62 456.70,319.17 457.20,324.20 C457.70,329.23 458.18,336.82 458.70,342.30 C459.22,347.78 459.78,355.58 460.30,357.10 C460.82,358.62 461.27,352.88 461.80,351.40 C462.33,349.92 462.97,348.98 463.50,348.20 C464.03,347.42 464.50,347.20 465.00,346.70 C465.50,346.20 466.08,344.77 466.50,345.20 C466.92,345.63 467.10,347.62 467.50,349.30 C467.90,350.98 468.50,355.30 468.90,355.30 C469.30,355.30 469.53,352.15 469.90,349.30 C470.27,346.45 470.73,340.65 471.10,338.20 C471.47,335.75 471.77,334.43 472.10,334.60 C472.43,334.77 472.77,337.43 473.10,339.20 C473.43,340.97 473.68,343.95 474.10,345.20 C474.52,346.45 475.10,346.87 475.60,346.70 C476.10,346.53 476.65,345.37 477.10,344.20 C477.55,343.03 477.93,340.37 478.30,339.70 C478.67,339.03 478.95,338.95 479.30,340.20 C479.65,341.45 480.00,344.43 480.40,347.20 C480.80,349.97 481.32,356.63 481.70,356.80 C482.08,356.97 482.37,351.82 482.70,348.20 C483.03,344.58 483.37,338.20 483.70,335.10 C484.03,332.00 484.37,329.93 484.70,329.60 C485.03,329.27 485.37,331.33 485.70,333.10 C486.03,334.87 486.37,339.70 486.70,340.20 C487.03,340.70 487.37,337.37 487.70,336.10 C488.03,334.83 488.37,332.25 488.70,332.60 C489.03,332.95 489.37,335.60 489.70,338.20 C490.03,340.80 490.43,346.27 490.70,348.20 C490.97,350.13 491.20,349.53 491.30,349.80" stroke="#EE7628"/></g><g stroke-width="1.5"><line x1="100" y1="34.5" x2="124" y2="34.5" stroke="#4472C4"/><line x1="100" y1="49.1" x2="124" y2="49.1" stroke="#ED7D31"/><line x1="100" y1="243.7" x2="124" y2="243.7" stroke="#4472C4"/><line x1="100" y1="258.6" x2="124" y2="258.6" stroke="#ED7D31"/></g><g font-family='"Liberation Sans", sans-serif' font-size="9.5" fill="#595959" stroke="#595959"><text x="126.2" y="37.5" textLength="84.2" lengthAdjust="spacingAndGlyphs">0.1 mM DTNB SERS</text><text x="126.2" y="52.0" textLength="71.4" lengthAdjust="spacingAndGlyphs">2.52 M DTNB RS</text><text x="126.2" y="246.9" textLength="84.2" lengthAdjust="spacingAndGlyphs">0.1 mM DTNB SERS</text><text x="126.2" y="261.5" textLength="76.6" lengthAdjust="spacingAndGlyphs">100 mM DTNB RS</text></g><g font-family='"Liberation Sans", sans-serif' font-size="16.5" fill="#000" stroke="#000"><text x="67.8" y="23.7" textLength="10.6" lengthAdjust="spacingAndGlyphs">A</text><text x="70.3" y="229.7" textLength="8.8" lengthAdjust="spacingAndGlyphs">B</text></g><g font-family='"Liberation Sans", sans-serif' font-size="10" fill="#404040" stroke="#404040"><text x="282.2" y="26.00">1332</text><text x="364.9" y="31.90">1342</text><text x="179.9" y="81.10">1061</text><text x="226.3" y="113.90">1151</text><text x="442.3" y="81.10">1569</text><text x="403.4" y="121.60">1556</text><text x="288.9" y="225.60">1332</text><text x="349.9" y="225.30">1341</text></g><g fill="none" stroke="#8C8C8C" stroke-width="0.8"><polyline points="308.2,21.8 313,21.8 331,37.6"/><polyline points="361,27.4 355.5,27.4 335.4,38.6"/><polyline points="428.2,117.4 432.2,117.4 446.6,129.5"/><polyline points="314.6,221.7 318.6,221.7 331.4,237.6"/><polyline points="345.9,220.6 340.5,220.6 336,232"/></g><g transform="translate(18.3,142.3) rotate(-90)" font-family='"Liberation Sans", sans-serif' font-size="10" fill="#595959" stroke="#595959"><text x="0" textLength="67.4" lengthAdjust="spacingAndGlyphs">SERS intensity</text><text x="70.6" font-style="italic">I</text><text x="74.2" y="2.9" font-size="6.6" textLength="13.6" lengthAdjust="spacingAndGlyphs">SERS</text><text x="93.0" textLength="23.1" lengthAdjust="spacingAndGlyphs">[a.u.]</text></g><g transform="translate(18.3,344.1) rotate(-90)" font-family='"Liberation Sans", sans-serif' font-size="10" fill="#595959" stroke="#595959"><text x="0" textLength="67.4" lengthAdjust="spacingAndGlyphs">SERS intensity</text><text x="70.6" font-style="italic">I</text><text x="74.2" y="2.9" font-size="6.6" textLength="13.6" lengthAdjust="spacingAndGlyphs">SERS</text><text x="93.0" textLength="23.1" lengthAdjust="spacingAndGlyphs">[a.u.]</text></g><g transform="translate(540.5,143.3) rotate(-90)" font-family='"Liberation Sans", sans-serif' font-size="10" fill="#595959" stroke="#595959"><text x="0" textLength="77.6" lengthAdjust="spacingAndGlyphs">Raman intensity</text><text x="80.6" font-style="italic">I</text><text x="84.0" y="2.9" font-size="6.6" textLength="6.8" lengthAdjust="spacingAndGlyphs">RS</text><text x="94.0" textLength="25.0" lengthAdjust="spacingAndGlyphs">[a.u.]</text></g><g transform="translate(539.2,345.4) rotate(-90)" font-family='"Liberation Sans", sans-serif' font-size="10" fill="#595959" stroke="#595959"><text x="0" textLength="78.0" lengthAdjust="spacingAndGlyphs">Raman intensity</text><text x="81.0" font-style="italic">I</text><text x="84.4" y="2.9" font-size="6.6" textLength="6.8" lengthAdjust="spacingAndGlyphs">RS</text><text x="94.4" textLength="25.4" lengthAdjust="spacingAndGlyphs">[a.u.]</text></g><g font-family='"Liberation Sans", sans-serif' font-size="10" fill="#595959" stroke="#595959"><text x="229.0" y="182.8" textLength="31.9" lengthAdjust="spacingAndGlyphs">Raman</text><text x="264.8" y="182.8" textLength="20.0" lengthAdjust="spacingAndGlyphs">shift</text><text x="288.9" y="182.8" textLength="17.3" lengthAdjust="spacingAndGlyphs">[cm</text><text x="306.9" y="179.4" font-size="6">−1</text><text x="314.6" y="182.8">]</text></g><g font-family='"Liberation Sans", sans-serif' font-size="10" fill="#595959" stroke="#595959"><text x="229.0" y="387.4" textLength="31.9" lengthAdjust="spacingAndGlyphs">Raman</text><text x="264.8" y="387.4" textLength="20.0" lengthAdjust="spacingAndGlyphs">shift</text><text x="288.9" y="387.4" textLength="17.3" lengthAdjust="spacingAndGlyphs">[cm</text><text x="306.9" y="384.0" font-size="6">−1</text><text x="314.6" y="387.4">]</text></g></svg>
</body></html>
